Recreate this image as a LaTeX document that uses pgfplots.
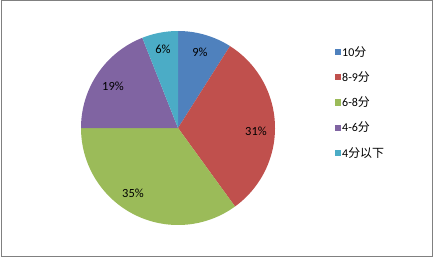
\documentclass[border=0pt]{standalone}
\usepackage{pgfplots}
\pgfplotsset{compat=1.18}
\usepackage{fontspec}
\setmainfont{Carlito}
\newfontfamily\cjk{Noto Sans CJK SC}
\definecolor{c1}{HTML}{4F81BD}
\definecolor{c2}{HTML}{C0504D}
\definecolor{c3}{HTML}{9BBB59}
\definecolor{c4}{HTML}{8064A2}
\definecolor{c5}{HTML}{4BACC6}
\begin{document}
\begin{tikzpicture}[x=1bp,y=1bp]
\useasboundingbox (0,0) rectangle (434,258);
\draw[color=black!50, line width=1bp] (1,2) rectangle (432.5,257);
\begin{axis}[
  at={(0,0)}, anchor=origin,
  x=1bp, y=1bp, xmin=0, xmax=434, ymin=0, ymax=258,
  hide axis, clip=false,
  legend style={draw=none, fill=none, at={(axis cs:331.5,215)}, anchor=north west,
    font=\fontsize{12}{14}\selectfont, row sep=12bp,
    nodes={inner sep=1bp}},
  legend cell align=left,
  legend image code/.code={\fill[#1] (0bp,-3.2bp) rectangle (6.5bp,3.2bp);},
]
% pie slices: percentages 9, 31, 35, 19, 6 (clockwise from top)
\addplot[fill=c1, draw=none, domain=0:9, samples=40] ({178+97*sin(3.6*x)},{130+97*cos(3.6*x)}) -- (axis cs:178,130) -- cycle;
\addplot[fill=c2, draw=none, domain=9:40, samples=80] ({178+97*sin(3.6*x)},{130+97*cos(3.6*x)}) -- (axis cs:178,130) -- cycle;
\addplot[fill=c3, draw=none, domain=40:75, samples=80] ({178+97*sin(3.6*x)},{130+97*cos(3.6*x)}) -- (axis cs:178,130) -- cycle;
\addplot[fill=c4, draw=none, domain=75:94, samples=60] ({178+97*sin(3.6*x)},{130+97*cos(3.6*x)}) -- (axis cs:178,130) -- cycle;
\addplot[fill=c5, draw=none, domain=94:100, samples=30] ({178+97*sin(3.6*x)},{130+97*cos(3.6*x)}) -- (axis cs:178,130) -- cycle;
\addlegendentry{10{\cjk 分}}
\addlegendentry{8-9{\cjk 分}}
\addlegendentry{6-8{\cjk 分}}
\addlegendentry{4-6{\cjk 分}}
\addlegendentry{4{\cjk 分以下}}
\node[font=\fontsize{12.5}{14}\selectfont] at (axis cs:200,206) {9\%};
\node[font=\fontsize{12.5}{14}\selectfont] at (axis cs:256,127) {31\%};
\node[font=\fontsize{12.5}{14}\selectfont] at (axis cs:133,65) {35\%};
\node[font=\fontsize{12.5}{14}\selectfont] at (axis cs:113,172) {19\%};
\node[font=\fontsize{12.5}{14}\selectfont] at (axis cs:163,209) {6\%};
\end{axis}
\end{tikzpicture}
\end{document}
